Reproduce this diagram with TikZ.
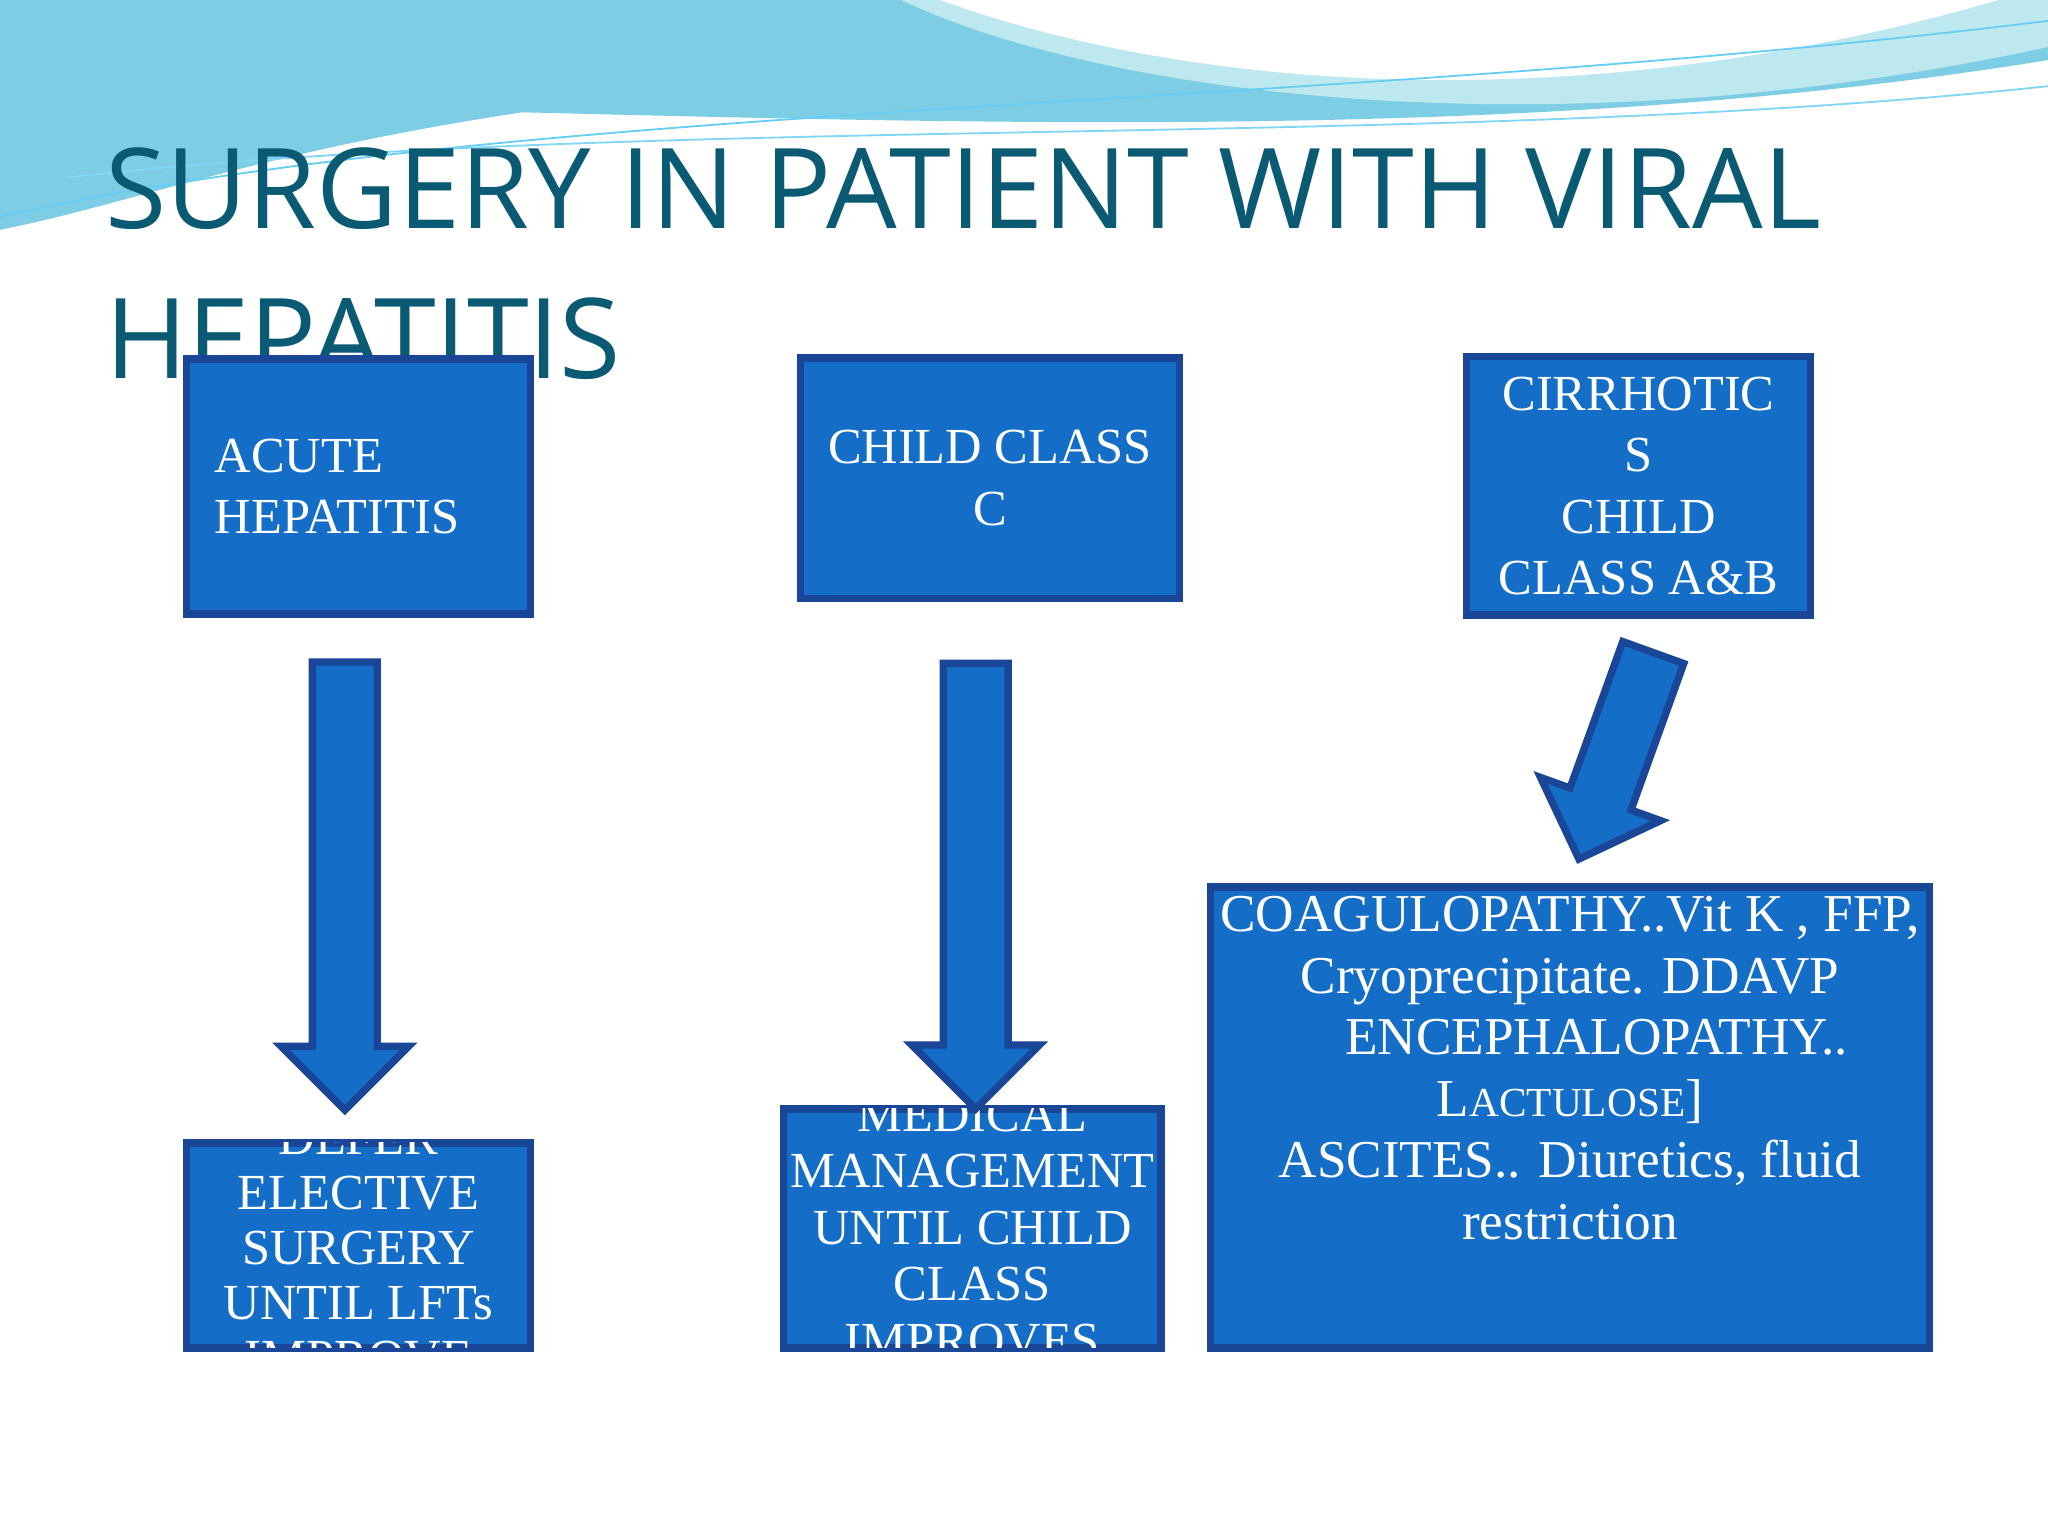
\documentclass[tikz,border=0pt]{standalone}
\usepackage{fontspec}
\setmainfont{Liberation Serif}
\newfontfamily\titlefont{Open Sans}
\usetikzlibrary{shapes.arrows, positioning}
\definecolor{boxblue}{RGB}{20,110,200}
\definecolor{boxline}{RGB}{25,70,150}
\definecolor{titleteal}{RGB}{10,90,115}
\definecolor{wavecyan}{RGB}{125,205,228}
\definecolor{wavelight}{RGB}{190,232,240}
\tikzset{
	stepbox/.style={draw=boxline, line width=1.6pt, fill=boxblue},
	boxtext/.style={text=white, align=center, font=\fontsize{11pt}{13.4pt}\selectfont},
	fatarrow/.style={single arrow, draw=boxline, line width=1.6pt, fill=boxblue, inner xsep=0pt, inner ysep=0.22cm, single arrow head extend=0.24cm}
}
\begin{document}
\begin{tikzpicture}
			\useasboundingbox (0,0) rectangle (15.68,11.76);
			% Background
			\fill[white] (0,0) rectangle (15.68,11.76);
			\fill[wavecyan] (0,11.76) -- (15.68,11.76) -- (15.68,11.3) .. controls (12,10.7) and (8,10.8) .. (4,10.9) .. controls (2,10.6) and (1,10.2) .. (0,10.0) -- cycle;
			\fill[wavelight] (6.9,11.76) .. controls (8.5,11.0) and (12,10.6) .. (15.68,11.4) -- (15.68,11.76) -- cycle;
			\fill[white] (7.2,11.76) .. controls (9,11.1) and (12,10.8) .. (15.3,11.76) -- cycle;
			\draw[cyan!60, thin] (0,10.1) .. controls (4,11.0) and (10,10.9) .. (15.68,11.6);
			\draw[cyan!50, thin] (0.5,10.4) .. controls (5,10.9) and (11,10.6) .. (15.68,11.1);
			% Title
			\node (T1) [anchor=base west, text=titleteal, font=\titlefont\fontsize{24.3pt}{28pt}\selectfont, inner sep=0pt] at (0.8,10.01) {SURGERY IN PATIENT WITH VIRAL};
			\node (T2) [anchor=base west, text=titleteal, font=\titlefont\fontsize{24.3pt}{28pt}\selectfont, inner sep=0pt] at (0.8,8.86) {HEPATITIS};
			% Boxes
			\node (A1) [stepbox, minimum width=2.63cm, minimum height=1.95cm] at (2.745,8.035) {};
			\node [boxtext, align=left, anchor=west] at (1.52,8.035) {ACUTE\\HEPATITIS};
			\node (B1) [stepbox, minimum width=2.9cm, minimum height=1.84cm] at (7.58,8.1) {};
			\node [boxtext] at (B1) {CHILD CLASS\\C};
			\node (C1) [stepbox, minimum width=2.63cm, minimum height=1.98cm] at (12.545,8.04) {};
			\node [boxtext] at (C1) {CIRRHOTIC\\S\\CHILD\\CLASS A\&B};
			\node (A2) [stepbox, minimum width=2.63cm, minimum height=1.57cm] at (2.745,2.225) {};
			\begin{scope}
				\clip (1.43,1.44) rectangle (4.06,3.01);
				\node [boxtext, font=\fontsize{11pt}{12pt}\selectfont] at (2.745,2.2) {DEFER\\ELECTIVE\\SURGERY\\UNTIL LFTs\\IMPROVE};
			\end{scope}
			\node (B2) [stepbox, minimum width=2.89cm, minimum height=1.83cm] at (7.445,2.355) {};
			\begin{scope}
				\clip (6.0,1.44) rectangle (8.89,3.27);
				\node [boxtext, font=\fontsize{11pt}{12.3pt}\selectfont] at (7.445,2.36) {MEDICAL\\MANAGEMENT\\UNTIL CHILD\\CLASS\\IMPROVES};
			\end{scope}
			\node (C2) [stepbox, minimum width=5.5cm, minimum height=3.53cm] at (12.02,3.205) {};
			\node [boxtext, anchor=north, font=\fontsize{11.6pt}{13.4pt}\selectfont] at (12.02,5.02) {COAGULOPATHY..Vit K , FFP,\\Cryoprecipitate. DDAVP\\\quad ENCEPHALOPATHY..\\L{\small ACTULOSE}]\\ASCITES.. Diuretics, fluid\\restriction};
			% Arrows
			\node (AR1) [fatarrow, minimum height=3.43cm, rotate=-90] at (2.64,5.10) {};
			\node (AR2) [fatarrow, minimum height=3.41cm, rotate=-90] at (7.47,5.10) {};
			\node (AR3) [fatarrow, minimum height=1.68cm, rotate=250.2] at (12.415,6.09) {};
		\end{tikzpicture}
\end{document}
